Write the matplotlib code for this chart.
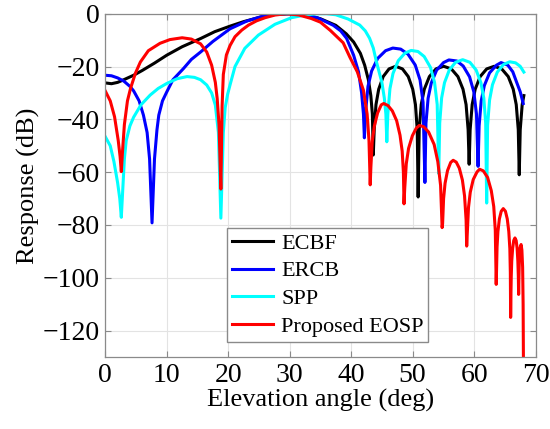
import matplotlib
matplotlib.use('Agg')
import matplotlib.pyplot as plt

# values (angle in deg, response in dB)
ecbf_x = [0, 1, 2, 3, 4.6, 6, 8, 10, 12.5, 15.5, 17.8, 20.3, 22.5, 25.2, 27.5, 30, 32.5, 35, 37.5, 39.2,
          40.4, 41.5, 42.2, 42.8, 43.2, 43.45, 43.6,
          43.75, 44.04, 44.48, 45.21, 46.16, 47.25, 48.35, 49.29, 50.02, 50.46, 50.75, 50.9,
          51.07, 51.4, 51.9, 52.73, 53.8, 55.05, 56.3, 57.37, 58.2, 58.7, 59.03, 59.2,
          59.36, 59.69, 60.18, 60.99, 62.05, 63.28, 64.5, 65.56, 66.37, 66.86, 67.19, 67.35,
          67.51, 67.83, 68.1]
ecbf_y = [-26.2, -26.5, -26.0, -25.0, -23.3, -21.5, -18.7, -15.7, -12.5, -9.4, -6.8, -4.7, -3.0, -1.3, -0.3, 0, -0.4, -1.9, -4.4, -7.6,
          -10.7, -15, -19.5, -25, -31, -38, -53.5,
          -43.9, -34.4, -28.6, -23.8, -20.9, -19.9, -20.9, -23.8, -28.6, -34.4, -43.9, -69.4,
          -43.9, -34.4, -28.6, -23.8, -20.9, -19.9, -20.9, -23.8, -28.6, -34.4, -43.9, -57,
          -43.9, -34.4, -28.6, -23.8, -20.9, -19.9, -20.9, -23.8, -28.6, -34.4, -43.9, -61,
          -43.9, -34.4, -31]

ercb_x = [0, 1, 2, 3, 4, 4.6, 5.5, 6.2, 6.8, 7.2, 7.6, 8.0, 8.4, 8.7, 9.3, 10, 11, 12.7, 14, 15.5, 17.5, 20.3,
          23, 25.5, 28, 30, 32, 34.5, 37.1, 38.3, 39.25, 40.4, 41.2, 41.7, 42.0, 42.15,
          42.35, 42.74, 43.33, 44.32, 45.6, 46.78, 48.06, 49.24, 50.42, 51.21, 51.7, 52.0,
          52.17, 52.52, 53.04, 53.9, 55.03, 55.9, 57.19, 58.23, 59.27, 59.96, 60.39, 60.65,
          60.82, 61.16, 61.67, 62.52, 63.63, 64.39, 65.5, 66.3, 66.9, 67.5, 68.0]
ercb_y = [-23.3, -23.5, -24.3, -25.5, -27.5, -29.2, -33, -38.4, -45, -55, -79.2, -55, -44, -38.4, -33, -29.6, -25, -20.8, -17.3, -14.5, -10.5, -5.7,
          -2.8, -1, -0.1, 0, -0.3, -1.5, -4.4, -6.5, -9.3, -15.7, -22, -30, -38, -47,
          -37, -27.5, -21.7, -16.9, -14, -13, -13.4, -15.3, -19.4, -25.1, -33.5, -63.9,
          -41.5, -32, -26.2, -21.4, -18.5, -17.5, -17.9, -19.8, -23.9, -29.6, -38, -57.8,
          -42.5, -33, -27.2, -22.4, -19.5, -18.5, -19.5, -22, -25.8, -29.5, -34]

spp_x = [0, 0.8, 1.4, 2.0, 2.35, 2.6, 2.85, 3.1, 3.4, 4.0, 4.6, 5.8, 7.3, 8.6, 10, 11.7, 13.3, 14.5, 15.5, 16.5,
         17.3, 17.9, 18.4, 18.8, 19.2, 19.5, 19.9, 20.3, 21.1, 22.7, 24.9, 27.6, 30.3, 32.5, 34.5, 36,
         37.5, 39.5, 41.4, 42.3, 43.0, 43.6, 44.1, 44.6, 45.0, 45.4, 45.65, 45.8,
         45.97, 46.31, 46.81, 47.66, 48.76, 49.77, 50.87, 51.88, 52.9, 53.57, 54.0, 54.25,
         54.41, 54.72, 55.19, 55.97, 56.98, 58.15, 59.32, 60.33, 61.11, 61.58, 61.89, 62.05,
         62.2, 62.52, 62.99, 63.78, 64.8, 65.8, 66.75, 67.5, 68.1]
spp_y = [-46.6, -50, -56, -64, -70, -77.1, -66, -55, -48, -42.5, -39.2, -34.5, -30.8, -28.3, -26.4, -24.6, -23.8, -24.1, -25, -27,
         -30, -34.6, -45, -77.4, -45, -35.6, -30.5, -26.9, -20, -13.1, -8.1, -4.0, -1.5, -0.5, 0, 0,
         -0.4, -2, -4.3, -6.5, -9.3, -13, -18.1, -22.5, -26, -32, -38, -48.5,
         -37.9, -28.4, -22.6, -17.8, -14.9, -13.9, -14.3, -16.2, -20.3, -26, -34.4, -60.5,
         -41.4, -31.9, -26.1, -21.3, -18.4, -17.4, -18.4, -21.3, -26.1, -31.9, -41.4, -71.7,
         -42.2, -32.7, -26.9, -22.1, -19.2, -18.2, -18.6, -19.9, -22.1]

eosp_x = [0, 0.8, 1.5, 2.1, 2.4, 2.6, 2.8, 3.1, 3.6, 4.1, 4.9, 5.7, 7.0, 8.9, 10.5, 12.5, 14, 15.5, 16.5, 17.3,
          17.9, 18.2, 18.5, 18.8, 19.0, 19.2, 19.7, 20.3, 21.1, 22.2, 23.3, 24.6, 26.0, 27.6, 29.5, 31.5,
          33.5, 35, 36.6, 38.7, 39.8, 41.0, 42.0, 42.6, 42.9, 43.1,
          43.21, 43.43, 43.76, 44.3, 44.9, 45.3, 46.0, 46.7, 47.4, 47.95, 48.3, 48.5, 48.6,
          48.72, 48.97, 49.34, 49.96, 50.6, 51.1, 51.8, 52.6, 53.5, 54.1, 54.55, 54.8,
          54.88, 55.04, 55.28, 55.68, 56.2, 56.6, 57.1, 57.6, 58.1, 58.45, 58.7, 58.8,
          58.9, 59.09, 59.38, 59.86, 60.48, 60.9, 61.5, 62.2, 62.8, 63.2, 63.45, 63.6,
          63.65, 63.74, 63.88, 64.12, 64.42, 64.75, 65.1, 65.4, 65.65, 65.82, 65.9, 65.95,
          66.0, 66.05, 66.13, 66.28, 66.45, 66.65, 66.85, 67.0, 67.12, 67.2, 67.25,
          67.3, 67.37, 67.5, 67.65, 67.78, 67.9, 67.98, 68.05]
eosp_y = [-29.3, -33, -39, -48, -54, -59.8, -52, -42, -33, -28.3, -22.5, -18.3, -14, -11.2, -9.8, -9.1, -9.6, -11.4, -14.5, -19.5,
          -26, -32.1, -42, -66.4, -35, -23, -15.6, -12, -8.7, -6.2, -4.3, -2.7, -1.5, -0.5, 0, -0.5,
          -1.8, -3.2, -6.3, -11, -16.5, -22, -29, -38, -48, -64.8,
          -58, -48.5, -42.7, -37.6, -34.5, -34, -34.8, -36.8, -40.5, -46, -52, -60, -72,
          -66, -56.8, -51, -46.2, -43.3, -42.3, -42.8, -44.8, -49.5, -56, -65, -81,
          -79.5, -70, -64.2, -59.4, -56.3, -55.5, -56.2, -58.5, -63, -69, -78, -88,
          -82.9, -73.4, -67.6, -62.8, -59.9, -58.9, -59.5, -62, -67, -73, -82, -102.5,
          -97.8, -88.3, -82.5, -77.7, -74.8, -73.8, -74.8, -77.7, -82.5, -89, -98, -115,
          -106, -99.4, -93.6, -88.8, -85.9, -84.9, -85.9, -88.8, -93.6, -99.4, -106.3,
          -100, -93, -88.5, -87.4, -89.5, -96, -110, -140]

labels = ['ECBF', 'ERCB', 'SPP', 'Proposed EOSP']
colors = ['black', '#0000ff', '#00ffff', '#ff0000']

plt.rcParams['font.family'] = ['Liberation Serif', 'DejaVu Serif']

fig = plt.figure(figsize=(5.5, 4.29), dpi=100)
ax = fig.add_axes([0.1915, 0.1678, 0.7822, 0.8002])

series = [(ecbf_x, ecbf_y), (ercb_x, ercb_y), (spp_x, spp_y), (eosp_x, eosp_y)]
for (xs, ys), lab, c in zip(series, labels, colors):
    ax.plot(xs, ys, color=c, lw=2.2, label=lab, solid_joinstyle='round')

ax.set_xlim(0, 70)
ax.set_ylim(-130, 0)
ax.set_xticks(range(0, 71, 10))
ax.set_yticks(range(-120, 1, 20))
ax.grid(True, color='#e3e3e3', lw=0.8)
ax.set_axisbelow(True)
for s in ax.spines.values():
    s.set_color('#8a8a8a')
    s.set_linewidth(0.9)
ax.tick_params(direction='in', top=True, right=True, length=4, width=0.8,
               color='#8a8a8a', labelsize=20, pad=4)
ax.set_xlabel('Elevation angle (deg)', fontsize=19, labelpad=1)
ax.set_ylabel('Response (dB)', fontsize=19, labelpad=2)

ax.legend(loc='lower left', bbox_to_anchor=(0.2836, 0.0446), borderaxespad=0,
          fontsize=16, fancybox=False, edgecolor='#8a8a8a', framealpha=1,
          handlelength=1.85, handletextpad=0.35, labelspacing=0.32, borderpad=0.22)

plt.savefig('out.png', dpi=100)
